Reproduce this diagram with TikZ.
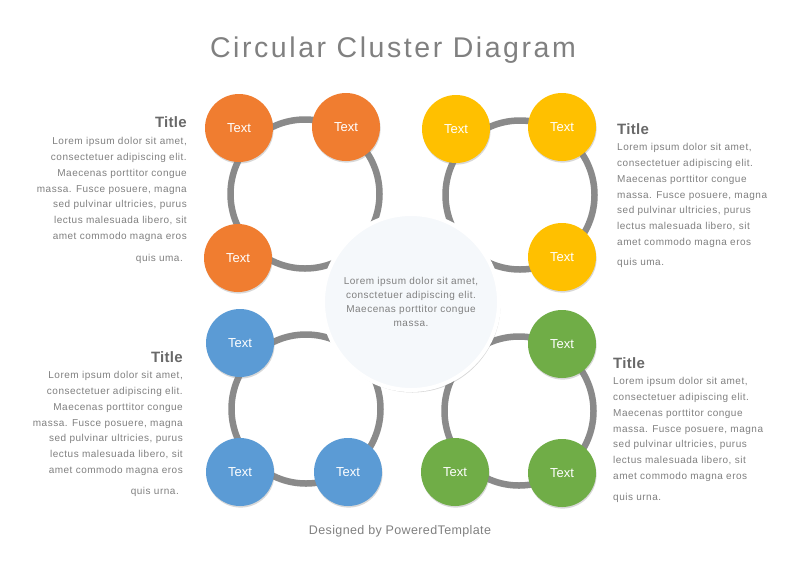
\documentclass[tikz,border=0pt]{standalone}
\usepackage{fontspec}
\setmainfont{Liberation Sans}
\usetikzlibrary{positioning,shadows}
\definecolor{ringgray}{RGB}{138,138,138}
\definecolor{textgray}{RGB}{128,128,128}
\definecolor{headgray}{RGB}{105,105,105}
\definecolor{corange}{RGB}{240,125,48}
\definecolor{cyellow}{RGB}{255,192,0}
\definecolor{cblue}{RGB}{91,155,213}
\definecolor{cgreen}{RGB}{112,173,71}
\definecolor{hubfill}{RGB}{245,248,251}

\begin{document}
\begin{tikzpicture}[x=1pt,y=-1pt,
				ring/.style={circle,draw=ringgray,line width=6.5pt,minimum size=149pt,inner sep=0pt},
				bubble/.style={circle,minimum size=68pt,inner sep=0pt,text=white,
					font=\fontsize{13}{15}\selectfont,
					drop shadow={opacity=0.3,shadow xshift=0.6pt,shadow yshift=-1.6pt}},
				hub/.style={circle,minimum size=176pt,inner sep=0pt,fill=hubfill,draw=white,line width=4pt,
					drop shadow={opacity=0.3,shadow xshift=1.5pt,shadow yshift=-2.5pt}},
				body/.style={inner sep=0pt,text=textgray,
					font=\fontsize{10}{15.7}\selectfont\addfontfeature{LetterSpace=5}},
				head/.style={inner sep=0pt,text=headgray,
					font=\fontsize{15}{18}\selectfont\bfseries\addfontfeature{LetterSpace=2}}]
				\useasboundingbox[fill=white] (0,0) rectangle (800,566);
				% rings
				\node (ringO) [ring] at (305,194) {};
				\node (ringY) [ring] at (520,195) {};
				\node (ringB) [ring] at (306,409) {};
				\node (ringG) [ring] at (519,411) {};
				% centre
				\node (hub) [hub] at (411,302) {};
				\node (hubtext) [body,align=center,font=\fontsize{10}{14}\selectfont\addfontfeature{LetterSpace=5}]
					at (hub.center) {Lorem ipsum dolor sit amet,\\consctetuer adipiscing elit.\\Maecenas porttitor congue\\massa.};
				% bubbles
				\node (O1) [bubble,fill=corange] at (239,128) {Text};
				\node (O2) [bubble,fill=corange] at (346,127) {Text};
				\node (O3) [bubble,fill=corange] at (238,258) {Text};
				\node (Y1) [bubble,fill=cyellow] at (456,129) {Text};
				\node (Y2) [bubble,fill=cyellow] at (562,127) {Text};
				\node (Y3) [bubble,fill=cyellow] at (562,257) {Text};
				\node (B1) [bubble,fill=cblue]   at (240,343) {Text};
				\node (B2) [bubble,fill=cblue]   at (240,472) {Text};
				\node (B3) [bubble,fill=cblue]   at (348,472) {Text};
				\node (G1) [bubble,fill=cgreen]  at (562,344) {Text};
				\node (G2) [bubble,fill=cgreen]  at (455,472) {Text};
				\node (G3) [bubble,fill=cgreen]  at (562,473) {Text};
				% texts
				\node (title) [text=textgray,font=\fontsize{28.5}{34}\selectfont\addfontfeature{LetterSpace=9},anchor=base]
					at (393,57) {Circular Cluster Diagram};
				\node (textO) [body,align=right,anchor=north east] at (187,137.5) {Lorem ipsum dolor sit amet,\\consectetuer adipiscing elit.\\Maecenas porttitor congue\\massa. Fusce posuere, magna\\sed pulvinar ultricies, purus\\lectus malesuada libero, sit\\amet commodo magna eros\\[7pt]quis uma.\hspace*{4pt}};
				\node (headO) [head,anchor=base east] at (187,127.5) {Title};
				\node (textY) [body,align=left,anchor=north west] at (617,143.5) {Lorem ipsum dolor sit amet,\\consectetuer adipiscing elit.\\Maecenas porttitor congue\\massa. Fusce posuere, magna\\sed pulvinar ultricies, purus\\lectus malesuada libero, sit\\amet commodo magna eros\\[5pt]quis uma.};
				\node (headY) [head,anchor=base west] at (617,134.5) {Title};
				\node (textB) [body,align=right,anchor=north east] at (183,371.5) {Lorem ipsum dolor sit amet,\\consectetuer adipiscing elit.\\Maecenas porttitor congue\\massa. Fusce posuere, magna\\sed pulvinar ultricies, purus\\lectus malesuada libero, sit\\amet commodo magna eros\\[6pt]quis urna.\hspace*{4pt}};
				\node (headB) [head,anchor=base east] at (183,362.5) {Title};
				\node (textG) [body,align=left,anchor=north west] at (613,377.5) {Lorem ipsum dolor sit amet,\\consectetuer adipiscing elit.\\Maecenas porttitor congue\\massa. Fusce posuere, magna\\sed pulvinar ultricies, purus\\lectus malesuada libero, sit\\amet commodo magna eros\\[6pt]quis urna.};
				\node (headG) [head,anchor=base west] at (613,368.5) {Title};
				\node (credit) [text=textgray,font=\fontsize{12.5}{15}\selectfont\addfontfeature{LetterSpace=3}]
					at (400,531) {Designed by PoweredTemplate};
			\end{tikzpicture}
\end{document}
